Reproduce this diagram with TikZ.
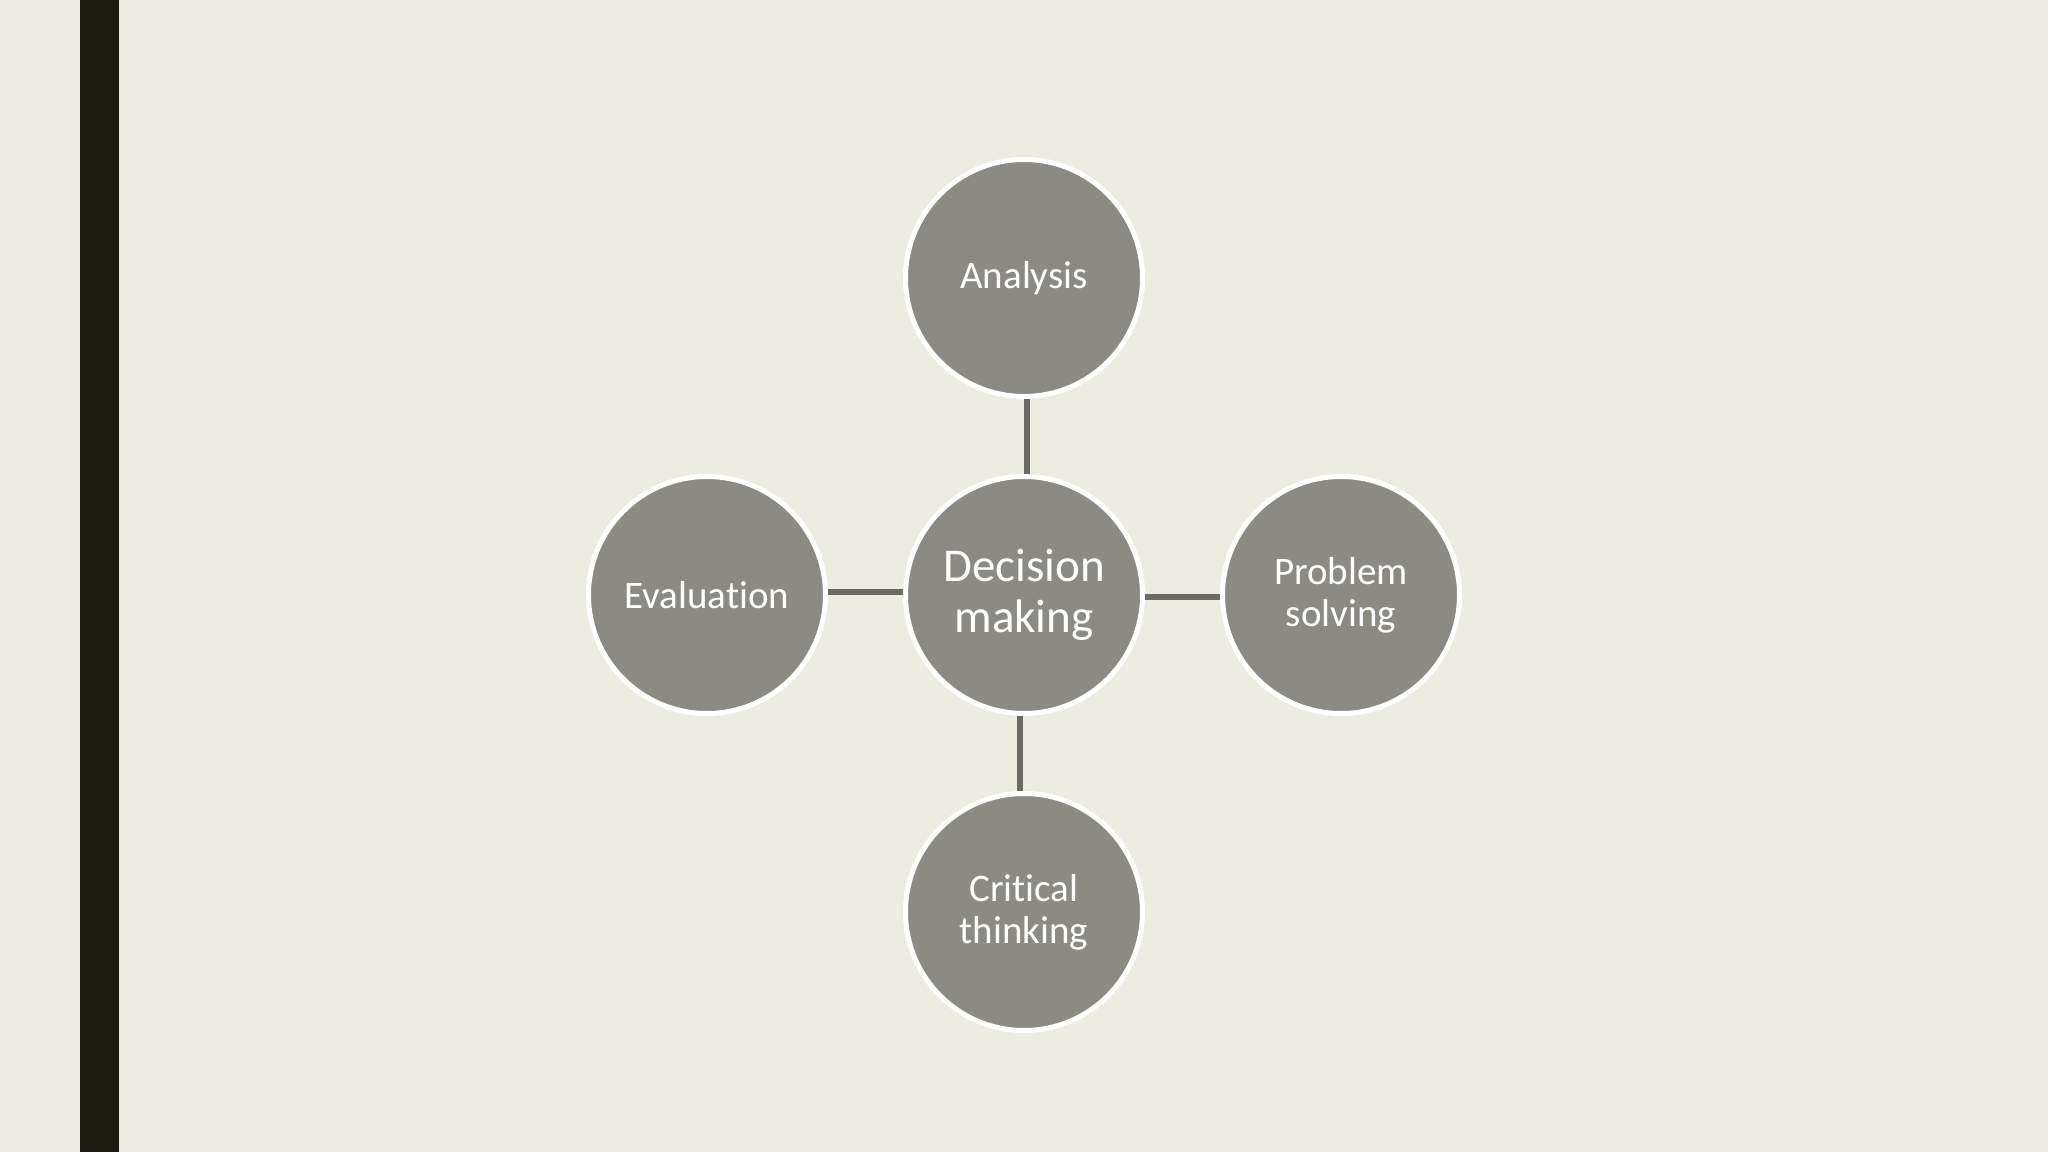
\documentclass[tikz,border=0pt]{standalone}
\usepackage{fontspec}
\setmainfont{Carlito}[Ligatures=NoCommon]
\usetikzlibrary{calc}
\definecolor{bgc}{HTML}{EDECE3}
\definecolor{barc}{HTML}{1C1C10}
\definecolor{circc}{HTML}{8B8A85}
\definecolor{linec}{HTML}{6B6A66}
\begin{document}
\begin{tikzpicture}[x=1pt,y=1pt,
  bubble/.style={circle, draw=white, line width=5pt, fill=circc, minimum size=237pt, inner sep=0pt,
    text=white, align=center, font=\fontsize{39}{42}\selectfont},
  bigbubble/.style={bubble, font=\fontsize{47}{51}\selectfont},
  link/.style={draw=linec, line width=6pt}]
\fill[bgc] (0,0) rectangle (2048,1152);
\useasboundingbox (0,0) rectangle (2048,1152);
\fill[barc] (80,0) rectangle (119,1152);
\node[bubble] (A) at (1024,874) {Analysis};
\node[bigbubble] (D) at (1024,557) {Decision\\making};
\node[bubble] (E) at (707,557) {Evaluation};
\node[bubble] (P) at (1341,557) {Problem\\solving};
\node[bubble] (C) at (1024,240) {Critical\\thinking};
\draw[link] ($(A.south)+(3,0)$) -- ($(D.north)+(3,0)$);
\draw[link] ($(D.south)+(-4,0)$) -- ($(C.north)+(-4,0)$);
\draw[link] ($(E.east)+(0,3)$) -- ($(D.west)+(0,3)$);
\draw[link] ($(D.east)+(0,-2)$) -- ($(P.west)+(0,-2)$);
\end{tikzpicture}
\end{document}
